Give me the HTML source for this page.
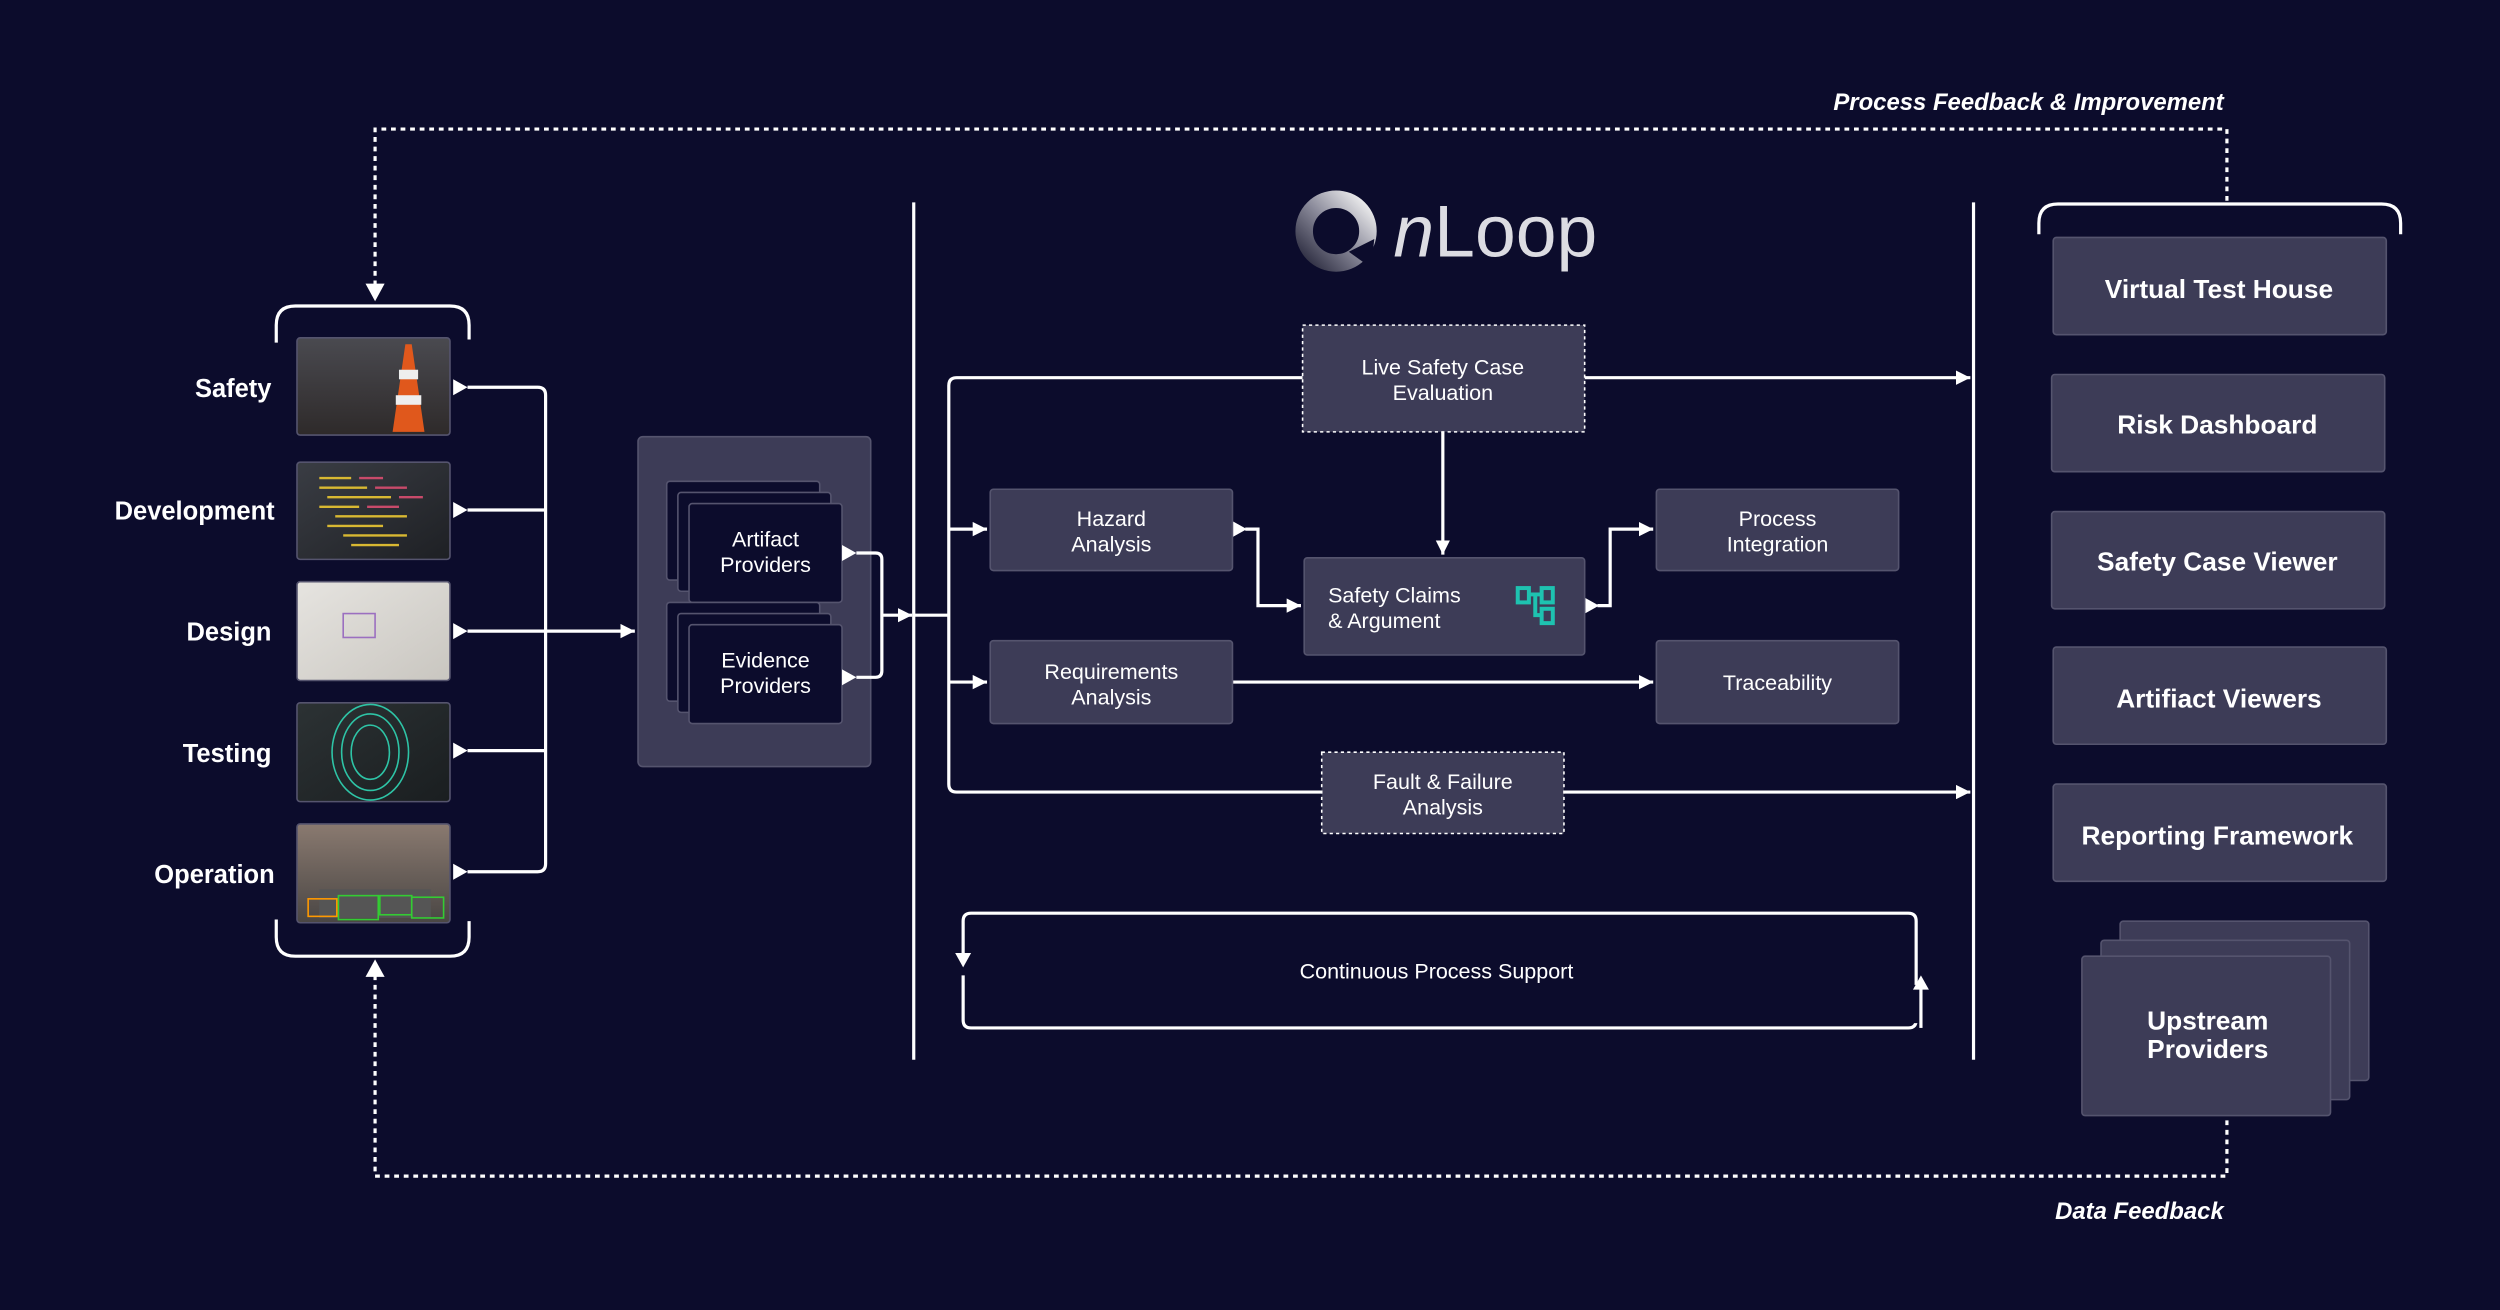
<!DOCTYPE html>
<html><head><meta charset="utf-8"><style>
html,body{margin:0;padding:0;background:#0c0c2c;}
svg{display:block;}
text{font-family:"Liberation Sans",sans-serif;fill:#fff;}
</style></head><body>
<svg width="2500" height="1310" viewBox="0 0 1568 822" xmlns="http://www.w3.org/2000/svg">
<defs>
<marker id="ar" viewBox="0 0 10 10" refX="10" refY="5" markerWidth="9" markerHeight="9" markerUnits="userSpaceOnUse" orient="auto"><path d="M0,0L10,5L0,10z" fill="#fff"/></marker>
<linearGradient id="lg" x1="1" y1="0" x2="0" y2="1"><stop offset="0" stop-color="#f4f4f4"/><stop offset="0.5" stop-color="#8a8a9a"/><stop offset="1" stop-color="#2a2a3e"/></linearGradient>
<linearGradient id="p1" x1="0" y1="0" x2="0" y2="1"><stop offset="0" stop-color="#4a4a50"/><stop offset="1" stop-color="#2e2a2a"/></linearGradient>
<linearGradient id="p2" x1="0" y1="0" x2="1" y2="1"><stop offset="0" stop-color="#3a3d44"/><stop offset="1" stop-color="#1e2024"/></linearGradient>
<linearGradient id="p3" x1="0" y1="0" x2="1" y2="1"><stop offset="0" stop-color="#e6e4e0"/><stop offset="1" stop-color="#c9c6c0"/></linearGradient>
<linearGradient id="p4" x1="0" y1="0" x2="1" y2="1"><stop offset="0" stop-color="#2c3234"/><stop offset="1" stop-color="#1a1e20"/></linearGradient>
<linearGradient id="p5" x1="0" y1="0" x2="0" y2="1"><stop offset="0" stop-color="#8a7a70"/><stop offset="1" stop-color="#4a4644"/></linearGradient>
</defs>
<rect width="1568" height="822" fill="#0c0c2c"/>

<g fill="none" stroke="#fff" stroke-width="2" stroke-dasharray="3,3">
<path d="M235,185V81H1397V128"/>
<path d="M235,606V738H1397V700"/>
</g>
<path d="M229,178L235,189L241,178z" fill="#fff"/>
<path d="M229,613L235,602L241,613z" fill="#fff"/>
<text x="1395" y="69" font-size="15" font-weight="bold" font-style="italic" text-anchor="end">Process Feedback &amp; Improvement</text>
<text x="1395" y="765" font-size="15" font-weight="bold" font-style="italic" text-anchor="end">Data Feedback</text>

<g fill="none" stroke="#fff" stroke-width="2">
<path d="M173,215V204Q173,192 185,192H282Q294,192 294,204V213"/>
<path d="M173,577V588Q173,600 185,600H282Q294,600 294,588V578"/>
<path d="M1279,147V140Q1279,128 1291,128H1494Q1506,128 1506,140V147"/>
</g>

<g stroke="#55546e" stroke-width="1">
<rect x="186" y="212" width="96" height="61" rx="2" fill="url(#p1)"/>
<rect x="186" y="290" width="96" height="61" rx="2" fill="url(#p2)"/>
<rect x="186" y="365" width="96" height="62" rx="2" fill="url(#p3)"/>
<rect x="186" y="441" width="96" height="62" rx="2" fill="url(#p4)"/>
<rect x="186" y="517" width="96" height="62" rx="2" fill="url(#p5)"/>
</g>
<path d="M246,271L254,216L258,216L266,271z" fill="#e0581c"/>
<rect x="250" y="232" width="12" height="6" fill="#eee"/><rect x="248" y="248" width="16" height="6" fill="#eee"/>
<g stroke-width="1.5"><path d="M200,300h20M200,306h30M205,312h40M200,318h25M210,324h45M205,330h35M215,336h40M220,342h30" stroke="#d8b832"/><path d="M225,300h15M235,306h20M250,312h15M230,318h20" stroke="#c84a6a"/></g>
<rect x="215" y="385" width="20" height="15" fill="none" stroke="#9b6fc0"/>
<g fill="none" stroke="#2ec4a6" stroke-width="1"><ellipse cx="232" cy="472" rx="12" ry="17"/><ellipse cx="232" cy="472" rx="18" ry="24"/><ellipse cx="232" cy="472" rx="24" ry="30"/></g>
<rect x="200" y="558" width="70" height="18" fill="#555"/>
<g fill="none" stroke="#3c3" stroke-width="1"><rect x="212" y="562" width="25" height="15"/><rect x="238" y="562" width="20" height="12"/><rect x="258" y="563" width="20" height="13"/></g>
<rect x="193" y="564" width="18" height="11" fill="none" stroke="#f90"/>

<g font-size="16" font-weight="bold" text-anchor="end">
<text x="170" y="249">Safety</text>
<text x="172" y="326">Development</text>
<text x="170" y="402">Design</text>
<text x="170" y="478">Testing</text>
<text x="172" y="554">Operation</text>
</g>
<g fill="#fff">
<path d="M293,243L284,238V248z"/><path d="M293,320L284,315V325z"/><path d="M293,396L284,391V401z"/><path d="M293,471L284,466V476z"/><path d="M293,547L284,542V552z"/>
</g>
<g fill="none" stroke="#fff" stroke-width="2">
<path d="M293,243H337Q342,243 342,248V542Q342,547 337,547H293"/>
<path d="M293,320H342M293,471H342"/>
<path d="M293,396H398" marker-end="url(#ar)"/>
</g>

<rect x="400" y="274" width="146" height="207" rx="3" fill="#3d3c57" stroke="#55546e"/>
<g fill="#0c0c2c" stroke="#55546e">
<rect x="418" y="302" width="96" height="62" rx="2"/><rect x="425" y="309" width="96" height="62" rx="2"/><rect x="432" y="316" width="96" height="62" rx="2"/>
<rect x="418" y="378" width="96" height="62" rx="2"/><rect x="425" y="385" width="96" height="62" rx="2"/><rect x="432" y="392" width="96" height="62" rx="2"/>
</g>
<g font-size="13.5" text-anchor="middle">
<text x="480" y="343">Artifact</text><text x="480" y="359">Providers</text>
<text x="480" y="419">Evidence</text><text x="480" y="435">Providers</text>
</g>
<path d="M537,347L528,342V352zM537,425L528,420V430z" fill="#fff"/>
<path d="M537,347H549Q553,347 553,351V421Q553,425 549,425H537" fill="none" stroke="#fff" stroke-width="2"/>
<path d="M553,386H572" fill="none" stroke="#fff" stroke-width="2" marker-end="url(#ar)"/>

<path d="M573,127V665M1238,127V665" stroke="#fff" stroke-width="2"/>

<circle cx="838" cy="145" r="20" fill="none" stroke="url(#lg)" stroke-width="11"/>
<path d="M846,158L862,150L860,168z" fill="#0c0c2c"/>
<text x="874" y="161" font-size="46" style="fill:#dcdce2"><tspan font-style="italic">n</tspan>Loop</text>

<g fill="none" stroke="#fff" stroke-width="2">
<path d="M573,386H595"/>
<path d="M817,237H600Q595,237 595,242V492Q595,497 600,497H829"/>
<path d="M595,332H619" marker-end="url(#ar)"/>
<path d="M595,428H619" marker-end="url(#ar)"/>
<path d="M994,237H1236" marker-end="url(#ar)"/>
<path d="M981,497H1236" marker-end="url(#ar)"/>
<path d="M905,271V348" marker-end="url(#ar)"/>
<path d="M781,332H789V380H816" marker-end="url(#ar)"/>
<path d="M1002,380H1010V332H1037" marker-end="url(#ar)"/>
<path d="M773,428H1037" marker-end="url(#ar)"/>
</g>
<path d="M782,332L773,327V337zM1003,380L994,375V385z" fill="#fff"/>

<g stroke="#55546e" fill="#3d3c57">
<rect x="621" y="307" width="152" height="51" rx="2"/>
<rect x="621" y="402" width="152" height="52" rx="2"/>
<rect x="818" y="350" width="176" height="61" rx="2"/>
<rect x="1039" y="307" width="152" height="51" rx="2"/>
<rect x="1039" y="402" width="152" height="52" rx="2"/>
</g>
<g stroke="#fff" fill="#3d3c57" stroke-dasharray="2,2">
<rect x="817" y="204" width="177" height="67"/>
<rect x="829" y="472" width="152" height="51"/>
</g>
<g font-size="13.5" text-anchor="middle">
<text x="905" y="235">Live Safety Case</text><text x="905" y="251">Evaluation</text>
<text x="697" y="330">Hazard</text><text x="697" y="346">Analysis</text>
<text x="697" y="426">Requirements</text><text x="697" y="442">Analysis</text>
<text x="1115" y="330">Process</text><text x="1115" y="346">Integration</text>
<text x="1115" y="433">Traceability</text>
<text x="905" y="495">Fault &amp; Failure</text><text x="905" y="511">Analysis</text>
<text x="901" y="614">Continuous Process Support</text>
</g>
<g font-size="13.5"><text x="833" y="378">Safety Claims</text><text x="833" y="394">&amp; Argument</text></g>
<g fill="none" stroke="#1ec2b0" stroke-width="2.5">
<rect x="952" y="369" width="7" height="9"/><rect x="967" y="369" width="7" height="9"/><rect x="967" y="382" width="7" height="9"/>
<path d="M959,373H967M963,373V386H967"/>
</g>

<g fill="none" stroke="#fff" stroke-width="2">
<path d="M604,598V578Q604,573 609,573H1197Q1202,573 1202,578V640Q1202,645 1197,645H609Q604,645 604,640V612"/>
</g>
<path d="M599,598L604,607L609,598z" fill="#fff"/>
<rect x="1200" y="618" width="10" height="24" fill="#0c0c2c"/>
<path d="M1205,645V618" stroke="#fff" stroke-width="2"/>
<path d="M1200,621L1205,612L1210,621z" fill="#fff"/>

<g stroke="#55546e" fill="#3d3c57">
<rect x="1288" y="149" width="209" height="61" rx="2"/>
<rect x="1287" y="235" width="209" height="61" rx="2"/>
<rect x="1287" y="321" width="209" height="61" rx="2"/>
<rect x="1288" y="406" width="209" height="61" rx="2"/>
<rect x="1288" y="492" width="209" height="61" rx="2"/>
<rect x="1330" y="578" width="156" height="100" rx="2"/>
<rect x="1318" y="590" width="156" height="100" rx="2"/>
<rect x="1306" y="600" width="156" height="100" rx="2"/>
</g>
<g font-size="16.5" font-weight="bold" text-anchor="middle">
<text x="1392" y="187">Virtual Test House</text>
<text x="1391" y="272">Risk Dashboard</text>
<text x="1391" y="358">Safety Case Viewer</text>
<text x="1392" y="444">Artifiact Viewers</text>
<text x="1391" y="530">Reporting Framework</text>
<text x="1385" y="646">Upstream</text>
<text x="1385" y="664">Providers</text>
</g>
</svg>
</body></html>
